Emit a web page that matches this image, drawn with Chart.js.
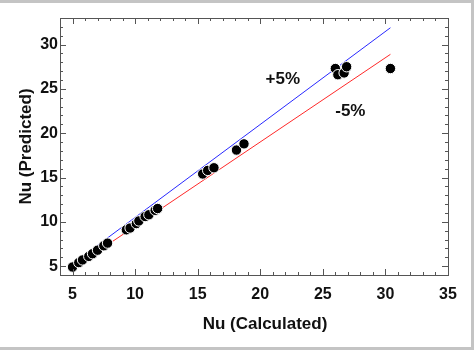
<!DOCTYPE html>
<html>
<head>
<meta charset="utf-8">
<script src="https://cdn.jsdelivr.net/npm/chart.js@4/dist/chart.umd.min.js"></script>
<style>
  html, body { margin: 0; padding: 0; background: #fff; }
  #wrap { width: 474px; height: 350px; position: relative; }
</style>
</head>
<body>
<div id="wrap"><canvas id="chart1"></canvas></div>
<script>
// Nu values
var nuCalculated = [5.0, 5.5, 5.8, 6.3, 6.6, 7.0, 7.5, 7.8,
                    9.3, 9.6, 10.1, 10.3, 10.8, 11.1, 11.6, 11.8,
                    15.4, 15.8, 16.3, 18.1, 18.7,
                    26.0, 26.2, 26.7, 26.9, 30.4]
var nuPredicted = [4.9, 5.4, 5.7, 6.1, 6.4, 6.8, 7.3, 7.6,
                   9.1, 9.3, 9.8, 10.1, 10.6, 10.8, 11.3, 11.5,
                   15.4, 15.8, 16.1, 18.1, 18.8,
                   27.3, 26.6, 26.8, 27.5, 27.3]

// +5% / -5% guide lines (end points)
var plusLineX = [5, 30.4]
var plusLineY = [5.25, 31.9]
var minusLineX = [5, 30.4]
var minusLineY = [4.75, 28.9]

var xTicks = [5, 10, 15, 20, 25, 30, 35]
var yTicks = [5, 10, 15, 20, 25, 30]

var labelFont = "'Liberation Sans', Arial, sans-serif"

function toPoints(xs, ys) {
    return xs.map(function(x, i) { return { x: x, y: ys[i] } })
}

// inward ticks on all four sides, frame, x title and the +/-5% labels
var framePlugin = {
    id: 'frame',
    afterDraw: function(chart) {
        var ctx = chart.ctx
        var a = chart.chartArea
        var xs = chart.scales.x
        var ys = chart.scales.y
        ctx.save()
        ctx.strokeStyle = '#555'
        ctx.lineWidth = 1
        ctx.strokeRect(a.left + 0.5, a.top + 0.5, a.right - a.left, a.bottom - a.top)
        ctx.beginPath()
        for (var v = 4; v <= 35; v++) {
            var px = Math.round(xs.getPixelForValue(v)) + 0.5
            var len = (v % 5 === 0) ? 6 : 3
            ctx.moveTo(px, a.bottom); ctx.lineTo(px, a.bottom - len)
            ctx.moveTo(px, a.top); ctx.lineTo(px, a.top + len)
        }
        for (var w = 4; w <= 33; w++) {
            var py = Math.round(ys.getPixelForValue(w)) + 0.5
            var l2 = (w % 5 === 0) ? 6 : 3
            ctx.moveTo(a.left, py); ctx.lineTo(a.left + l2, py)
            ctx.moveTo(a.right, py); ctx.lineTo(a.right - l2, py)
        }
        ctx.stroke()

        ctx.fillStyle = '#111'
        ctx.font = 'bold 17px ' + labelFont
        ctx.textAlign = 'center'
        ctx.textBaseline = 'middle'
        ctx.fillText('+5%', xs.getPixelForValue(21.8), ys.getPixelForValue(26.1))
        ctx.fillText('-5%', xs.getPixelForValue(27.2), ys.getPixelForValue(22.5))
        ctx.fillText('Nu (Calculated)', 265, 324)

        // outer grey border
        ctx.strokeStyle = '#c4c4c4'
        ctx.lineWidth = 3
        ctx.beginPath()
        ctx.moveTo(0, 1.5); ctx.lineTo(472.5, 1.5); ctx.lineTo(472.5, 348.5); ctx.lineTo(0, 348.5)
        ctx.stroke()
        ctx.restore()
    }
}

var dataChart1 = {
    datasets: [
        {
            type: 'scatter',
            label: 'Nu',
            data: toPoints(nuCalculated, nuPredicted),
            backgroundColor: '#000',
            borderColor: '#fff',
            borderWidth: 1,
            pointRadius: 5.2,
            order: 0
        },
        {
            type: 'line',
            label: '+5%',
            data: toPoints(plusLineX, plusLineY),
            borderColor: 'rgba(40, 40, 255, 1)',
            borderWidth: 1,
            pointRadius: 0,
            order: 1
        },
        {
            type: 'line',
            label: '-5%',
            data: toPoints(minusLineX, minusLineY),
            borderColor: 'rgba(255, 40, 40, 1)',
            borderWidth: 1,
            pointRadius: 0,
            order: 1
        }
    ]
}

var configChart1 = {
    type: 'scatter',
    data: dataChart1,
    options: {
        responsive: true,
        maintainAspectRatio: false,
        animation: false,
        layout: { padding: { top: 18, right: 26, left: 0, bottom: 0 } },
        scales: {
            x: {
                type: 'linear',
                min: 4,
                max: 35,
                grid: { display: false, drawTicks: false, tickLength: 0 },
                border: { display: false },
                afterBuildTicks: function(scale) {
                    scale.ticks = xTicks.map(function(v) { return { value: v } })
                },
                afterFit: function(scale) { scale.height = 75 },
                ticks: {
                    padding: 10,
                    color: '#111',
                    font: { family: labelFont, size: 16, weight: 'bold' }
                }
            },
            y: {
                type: 'linear',
                min: 4,
                max: 33,
                grid: { display: false, drawTicks: false, tickLength: 0 },
                border: { display: false },
                afterBuildTicks: function(scale) {
                    scale.ticks = yTicks.map(function(v) { return { value: v } })
                },
                afterFit: function(scale) { scale.width = 60 },
                ticks: {
                    padding: 2,
                    color: '#111',
                    font: { family: labelFont, size: 16, weight: 'bold' }
                },
                title: {
                    display: true,
                    text: 'Nu (Predicted)',
                    color: '#111',
                    padding: { bottom: 0, top: 16 },
                    font: { family: labelFont, size: 17, weight: 'bold' }
                }
            }
        },
        plugins: {
            legend: { display: false },
            tooltip: { enabled: false }
        }
    },
    plugins: [framePlugin]
};

var chart1 = new Chart(
    document.getElementById('chart1'),
    configChart1
);
</script>
</body>
</html>
